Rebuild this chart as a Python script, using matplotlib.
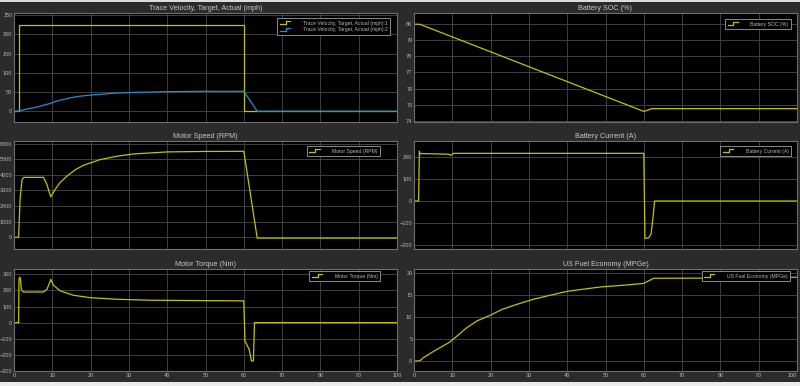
import matplotlib
matplotlib.use("Agg")
import matplotlib.pyplot as plt
from matplotlib.lines import Line2D
from matplotlib.legend_handler import HandlerLine2D
from matplotlib.patches import Rectangle

plt.rcParams['font.family'] = ['Liberation Sans', 'DejaVu Sans']

# ---------------- data ----------------
vel_t_target = [0, 1.3, 1.3, 60, 60, 100]
vel_target = [0, 0, 225, 225, 0, 0]
vel_t_actual = [0, 1, 3, 6, 9.4, 11, 13, 14.7, 17, 20, 22.5, 26, 31, 40, 50, 60, 63.5, 100]
vel_actual = [0, 0, 5, 11, 20, 26, 31, 35, 39, 42, 44, 47, 49, 51, 52, 52, 0, 0]

soc_t = [0, 1.5, 60, 61, 62, 100]
soc = [80, 80, 74.58, 74.65, 74.75, 74.75]

spd_t = [0, 1.2, 1.6, 2.1, 2.6, 7.7, 8.6, 9.2, 9.6, 10.7, 12, 13.8, 16, 18.2, 22.5, 27, 31.2, 40, 50, 60, 63.5, 100]
spd = [0, 0, 2500, 3700, 3840, 3840, 3380, 2900, 2590, 3050, 3500, 3910, 4330, 4620, 4980, 5200, 5340, 5470, 5500, 5510, -50, -50]

cur_t = [0, 1.2, 1.4, 1.6, 2.0, 9.0, 9.6, 10.3, 60, 60.3, 61.3, 61.9, 62.5, 62.8, 100]
cur = [0, 0, 228, 215, 217, 214, 209, 218, 218, -171, -168, -150, -60, 0, 0]

trq_t = [0, 1.2, 1.3, 1.5, 1.7, 1.9, 2.4, 7.7, 8.6, 9.3, 9.6, 10.3, 12.1, 15.5, 19.9, 26.9, 35.6, 60, 60.3, 61.4, 62, 62.5, 62.8, 100]
trq = [0, 0, 270, 282, 270, 207, 190, 190, 207, 248, 268, 232, 197, 170, 155, 145, 139, 135, -114, -166, -238, -238, 0, 0]

fe_t = [0, 1.6, 2.4, 5, 9.4, 13.8, 16.5, 19.9, 23, 26.9, 31.2, 36, 40, 48.8, 55, 60, 61.3, 62.6, 75, 100]
fe = [0, 0.15, 0.8, 2.2, 4.4, 7.65, 9.2, 10.45, 11.8, 12.95, 14.1, 15.1, 15.9, 16.9, 17.3, 17.7, 18.3, 18.86, 18.9, 19.1]

xticks = [0, 10, 20, 30, 40, 50, 60, 70, 80, 90, 100]

YELLOW = '#c4c400'
BLUE = '#1f8fd6'
FIG_BG = '#2b2b2b'
GRID = '#4a4a4a'
SPINE = '#6e6e6e'
TXT = '#b4b4b4'


class StepHandler(HandlerLine2D):
    def create_artists(self, legend, orig_handle, xdescent, ydescent, width, height, fontsize, trans):
        x0 = -xdescent
        y0 = -ydescent
        xs = [x0, x0 + width * 0.55, x0 + width * 0.55, x0 + width]
        ys = [y0 + height * 0.1, y0 + height * 0.1, y0 + height * 0.9, y0 + height * 0.9]
        ln = Line2D(xs, ys, color=orig_handle.get_color(), lw=orig_handle.get_linewidth())
        ln.set_transform(trans)
        return [ln]


fig = plt.figure(figsize=(8, 3.86), dpi=100, facecolor=FIG_BG)
W, H = 800.0, 386.0

fig.patches.append(Rectangle((0, 0), 1, 4 / H, transform=fig.transFigure,
                             facecolor='#ececec', edgecolor='none', zorder=-1))
fig.patches.append(Rectangle((0, 1 - 2 / H), 1, 2 / H, transform=fig.transFigure,
                             facecolor='#dcdcdc', edgecolor='none', zorder=-1))


def make_ax(left_px, top_px, bottom_px):
    return fig.add_axes([left_px / W, (H - bottom_px) / H, 383 / W, (bottom_px - top_px) / H])


panels = [
    dict(pos=(14, 13.3, 122), title='Trace Velocity, Target, Actual (mph)', ylim=(-28, 255),
         yticks=[0, 50, 100, 150, 200, 250],
         series=[(vel_t_target, vel_target, YELLOW, 'Trace Velocity, Target, Actual (mph):1'),
                 (vel_t_actual, vel_actual, BLUE, 'Trace Velocity, Target, Actual (mph):2')],
         leg=(7, 4.7), xlab=False),
    dict(pos=(414, 13.3, 122), title='Battery SOC (%)', ylim=(73.92, 80.68),
         yticks=[74, 75, 76, 77, 78, 79, 80],
         series=[(soc_t, soc, YELLOW, 'Battery SOC (%)')], leg=(6.3, 5.7), xlab=False),
    dict(pos=(14, 141.3, 248.7), title='Motor Speed (RPM)', ylim=(-730, 6150),
         yticks=[0, 1000, 2000, 3000, 4000, 5000, 6000],
         series=[(spd_t, spd, YELLOW, 'Motor Speed (RPM)')], leg=(17, 4.7), xlab=False),
    dict(pos=(414, 141.3, 248.7), title='Battery Current (A)', ylim=(-218, 273),
         yticks=[-200, -100, 0, 100, 200],
         series=[(cur_t, cur, YELLOW, 'Battery Current (A)')], leg=(6, 4.7), xlab=False),
    dict(pos=(14, 269.3, 371.3), title='Motor Torque (Nm)', ylim=(-302, 331),
         yticks=[-300, -200, -100, 0, 100, 200, 300],
         series=[(trq_t, trq, YELLOW, 'Motor Torque (Nm)')], leg=(17, 1.7), xlab=True),
    dict(pos=(414, 269.3, 371.3), title='US Fuel Economy (MPGe)', ylim=(-2.27, 20.9),
         yticks=[0, 5, 10, 15, 20],
         series=[(fe_t, fe, YELLOW, 'US Fuel Economy (MPGe)')], leg=(7, 1.7), xlab=True),
]

for p in panels:
    lx, ty, by = p['pos']
    ax = make_ax(lx, ty, by)
    ax.set_facecolor('black')
    handles = []
    for t, v, c, lab in p['series']:
        ln, = ax.plot(t, v, color=c, lw=0.9, label=lab)
        handles.append(ln)
    ax.set_xlim(0, 100)
    ax.set_ylim(*p['ylim'])
    ax.set_xticks(xticks)
    ax.set_yticks(p['yticks'])
    ax.grid(True, color=GRID, lw=0.6)
    ax.set_axisbelow(True)
    for s in ax.spines.values():
        s.set_color(SPINE)
        s.set_linewidth(0.8)
    ax.tick_params(colors=TXT, labelsize=4.0, length=0, pad=1.2)
    if not p['xlab']:
        ax.tick_params(labelbottom=False)
    ax.set_title(p['title'], color='#c8c8c8', fontsize=5.2, pad=2.5)
    hp = by - ty
    rgap, tgap = p['leg']
    leg = ax.legend(handles=handles, loc='upper right',
                    bbox_to_anchor=(1 - rgap / 383, 1 - tgap / hp), borderaxespad=0,
                    fontsize=3.7, frameon=True, facecolor='black', edgecolor='#8a8a8a',
                    framealpha=1, fancybox=False, handlelength=2.0, handletextpad=2.4,
                    borderpad=0.5, labelspacing=0.35,
                    handler_map={Line2D: StepHandler()})
    leg.get_frame().set_linewidth(0.7)
    for tx in leg.get_texts():
        tx.set_color('#b8b8b8')
    if p['xlab'] and lx > 400:
        ax.get_xticklabels()[-1].set_horizontalalignment('right')

fig.savefig('out.png', dpi=100, facecolor=FIG_BG)
